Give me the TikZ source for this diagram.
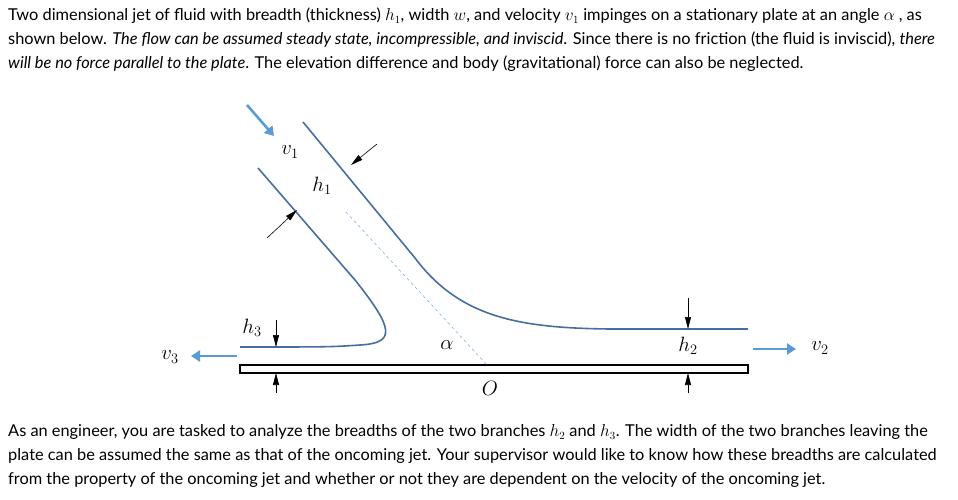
\documentclass[tikz,border=0pt]{standalone}
\usepackage{fontspec}
\setmainfont{Lato}
\usetikzlibrary{arrows.meta}
\begin{document}
\begin{tikzpicture}[x=1pt,y=-1pt,
  jet/.style={color={rgb,255:red,70;green,110;blue,160}, line width=1.6pt},
  flow/.style={draw={rgb,255:red,90;green,155;blue,215}, line width=2.6pt, -{Triangle[length=9pt,width=11pt]}},
  dim/.style={draw=black, line width=0.6pt, -{Triangle[length=12pt,width=6pt]}},
  txt/.style={anchor=west, inner sep=0pt, font=\fontsize{16.35}{20}\selectfont},
  lab/.style={inner sep=0pt, font=\fontsize{21}{24}\selectfont}]
\useasboundingbox (0,0) rectangle (958,500);
\node[txt] (t1) at (8,16) {Two dimensional jet of fluid with breadth (thickness) $h_1$, width $w$, and velocity $v_1$ impinges on a stationary plate at an angle $\alpha$ , as};
\node[txt] (t2) at (8,40) {shown below. \emph{The flow can be assumed steady state, incompressible, and inviscid}. Since there is no friction (the fluid is inviscid), \emph{there}};
\node[txt] (t3) at (8,64) {\emph{will be no force parallel to the plate}. The elevation difference and body (gravitational) force can also be neglected.};
\node[txt] (b1) at (8,432) {As an engineer, you are tasked to analyze the breadths of the two branches $h_2$ and $h_3$. The width of the two branches leaving the};
\node[txt] (b2) at (8,456) {plate can be assumed the same as that of the oncoming jet. Your supervisor would like to know how these breadths are calculated};
\node[txt] (b3) at (8,480) {from the property of the oncoming jet and whether or not they are dependent on the velocity of the oncoming jet.};
% plate
\draw[line width=1.5pt] (240,365) rectangle (748,373);
\coordinate (O) at (487,365);
% jet lines
\draw[jet] (303,122) -- (415,258) .. controls (460,318) and (520,328) .. (610,329) -- (748,329);
\draw[jet] (258,168) -- (355,280) .. controls (395,330) and (395,343) .. (360,345) .. controls (330,347) .. (240,347);
\draw[dashed, draw={rgb,255:red,120;green,165;blue,220}, line width=0.5pt] (346,212) -- (O);
% flow arrows
\coordinate (v1s) at (247,105); \coordinate (v1e) at (274,136);
\draw[flow] (v1s) -- (v1e);
\coordinate (v3s) at (237,356); \coordinate (v3e) at (191,356);
\draw[flow] (v3s) -- (v3e);
\coordinate (v2s) at (753,349); \coordinate (v2e) at (796,349);
\draw[flow] (v2s) -- (v2e);
% labels
\node[lab] (v1) at (290,152) {$v_1$};
\node[lab] (h1) at (322,186) {$h_1$};
\node[lab] (al) at (447,345) {$\alpha$};
\node[lab] (Ol) at (490,388) {$O$};
\node[lab] (h2) at (688,346) {$h_2$};
\node[lab] (h3) at (252,328) {$h_3$};
\node[lab] (v3) at (170,357) {$v_3$};
\node[lab] (v2) at (820,348) {$v_2$};
% dimension arrows
\coordinate (a1s) at (377,144); \coordinate (a1e) at (351,165);
\draw[dim] (a1s) -- (a1e);
\coordinate (a2s) at (267,238); \coordinate (a2e) at (297,210);
\draw[dim] (a2s) -- (a2e);
\coordinate (a3s) at (688,298); \coordinate (a3e) at (688,329);
\draw[dim] (a3s) -- (a3e);
\coordinate (a4s) at (688,393); \coordinate (a4e) at (688,373);
\draw[dim] (a4s) -- (a4e);
\coordinate (a5s) at (276,320); \coordinate (a5e) at (276,347);
\draw[dim] (a5s) -- (a5e);
\coordinate (a6s) at (276,393); \coordinate (a6e) at (276,373);
\draw[dim] (a6s) -- (a6e);
\end{tikzpicture}
\end{document}
